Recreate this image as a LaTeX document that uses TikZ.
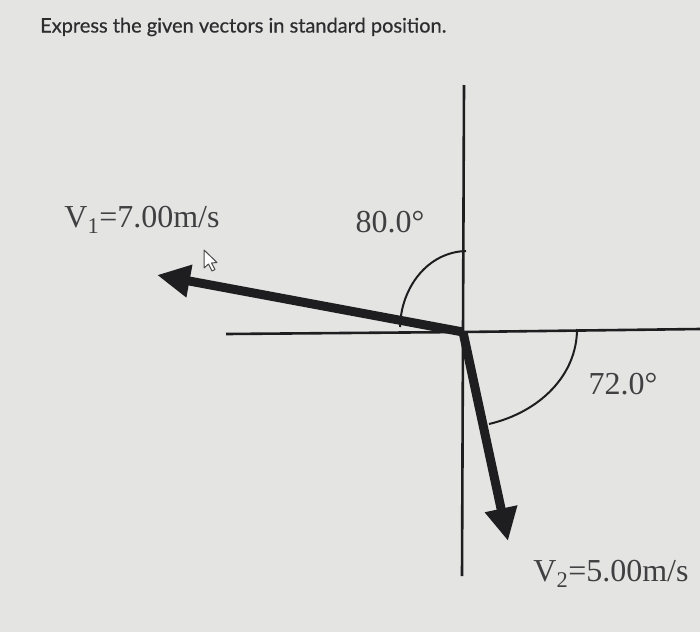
\documentclass[tikz,border=0pt]{standalone}
\usepackage{fontspec}
\setmainfont{Liberation Serif}
\newfontfamily\titlefont{Lato}
\usetikzlibrary{arrows.meta}
\definecolor{bgc}{RGB}{228,229,227}
\definecolor{ink}{RGB}{30,30,32}
\definecolor{titleink}{RGB}{45,45,48}
\tikzset{
  axis/.style={draw=ink, line width=2.6pt},
  vec/.style={draw=ink, line width=9pt, -{Triangle[length=33pt,width=31pt]}},
  anglearc/.style={draw=ink, line width=2pt},
  lbl/.style={font=\fontsize{32}{36}\selectfont, text=ink!85, inner sep=0pt},
}
\begin{document}
\begin{tikzpicture}[x=1pt,y=-1pt]
\fill[bgc] (0,0) rectangle (700,632);
\useasboundingbox (0,0) rectangle (700,632);
% title
\node[font=\titlefont\fontsize{20}{24}\selectfont, text=titleink, anchor=west, inner sep=0pt] (title) at (40,27) {\addfontfeature{FakeBold=0.6}Express the given vectors in standard position.};
% axes
\coordinate (O) at (463,332);
\coordinate (ytop) at (464,85);
\coordinate (ybot) at (462,576);
\coordinate (xleft) at (226,334);
\coordinate (xright) at (700,329);
\draw[axis] (ytop) -- (ybot);
\draw[axis] (xleft) -- (O) -- (xright);
% angle arcs
\draw[anglearc] (466,251) .. controls (428,252) and (401,287) .. (400,327);
\draw[anglearc] (577,329) .. controls (577,375) and (540,412) .. (489,424);
% vectors
\coordinate (V1tip) at (157,275);
\coordinate (V2tip) at (508,541);
\draw[vec] (O) -- (V1tip);
\draw[vec] (O) -- (V2tip);
% labels
\node[lbl] (v1) at (142,220) {V\textsubscript{1}=7.00m/s};
\node[lbl] (a80) at (390,222) {80.0°};
\node[lbl] (a72) at (623,384) {72.0°};
\node[lbl] (v2) at (611,574) {V\textsubscript{2}=5.00m/s};
% mouse pointer
\draw[ink!80, fill=white, line width=1pt, line join=round]
  (204,250) -- (204,268) -- (208.5,264) -- (212,271) -- (215,269.5) -- (211.5,263) -- (217,262.5) -- cycle;
\end{tikzpicture}
\end{document}
